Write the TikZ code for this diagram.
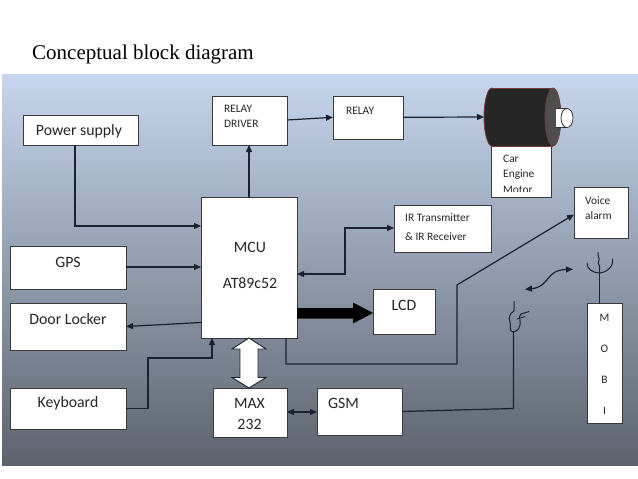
\documentclass[tikz,border=0pt]{standalone}
\usepackage{fontspec}
\setmainfont{Liberation Serif}
\newfontfamily\calfont{Carlito}
\usetikzlibrary{arrows.meta}
\definecolor{bgtop}{HTML}{C6D6EE}
\definecolor{bgmid}{HTML}{98A5B7}
\definecolor{bgbot}{HTML}{5C636D}
\definecolor{ln}{HTML}{1A2130}
\definecolor{bx}{HTML}{3A3A3A}
\definecolor{motbody}{HTML}{262626}
\definecolor{motface}{HTML}{4E4E4E}
\definecolor{motedge}{HTML}{7A3A3A}
\tikzset{
  box/.style={draw=bx, fill=white, line width=0.8pt, inner sep=0pt, outer sep=0pt},
  lbl/.style={font=\calfont\fontsize{15.8}{18}\selectfont, text=black!85, inner sep=0pt},
  sml/.style={font=\calfont\fontsize{11.4}{13}\selectfont, text=black!85, inner sep=0pt},
  wire/.style={draw=ln, line width=1.2pt},
  arr/.style={wire, -{Triangle[length=7pt,width=6pt]}},
  arrtwo/.style={wire, {Triangle[length=7pt,width=6pt]}-{Triangle[length=7pt,width=6pt]}},
}
\begin{document}
\begin{tikzpicture}[x=1pt,y=-1pt]
\useasboundingbox (0,0) rectangle (638,479);
\fill[white] (0,0) rectangle (638,479);
\shade[top color=bgtop, middle color=bgmid, bottom color=bgbot] (2,74) rectangle (638,465);
\node[anchor=base west, inner sep=0pt, font=\fontsize{21}{25}\selectfont] (title) at (32,59) {Conceptual block diagram};

% boxes
\node[box, minimum width=115pt, minimum height=30pt] (ps) at (80.5,130) {};
\node[box, minimum width=75pt, minimum height=49pt] (rd) at (249.5,120.5) {};
\node[box, minimum width=70pt, minimum height=43pt] (relay) at (368,117.5) {};
\node[box, minimum width=60pt, minimum height=51pt] (cem) at (521,171.5) {};
\node[box, minimum width=96pt, minimum height=141pt] (mcu) at (249,267.5) {};
\node[box, minimum width=97pt, minimum height=47pt] (ir) at (442.5,228.5) {};
\node[box, minimum width=54pt, minimum height=51pt] (voice) at (601,212.5) {};
\node[box, minimum width=116pt, minimum height=43pt] (gps) at (68,267.5) {};
\node[box, minimum width=116pt, minimum height=47pt] (door) at (68,326.5) {};
\node[box, minimum width=62pt, minimum height=45pt] (lcd) at (404,311.5) {};
\node[box, minimum width=35pt, minimum height=120pt] (mobi) at (604.5,363) {};
\node[box, minimum width=116pt, minimum height=41pt] (kb) at (68,408.5) {};
\node[box, minimum width=74pt, minimum height=49pt] (max) at (250,412.5) {};
\node[box, minimum width=85pt, minimum height=47pt] (gsm) at (359.5,411.5) {};

% motor (cylinder)
\coordinate (motor) at (484,117);
\path[fill=motbody, draw=motedge, line width=0.8pt] (492,117) ellipse[x radius=8, y radius=29];
\fill[motbody] (492,88) rectangle (553,146);
\draw[motedge, line width=0.8pt] (492,88) -- (553,88) (492,146) -- (553,146);
\path[fill=motface, draw=motedge, line width=0.7pt] (553,117) ellipse[x radius=8, y radius=29];
\path[fill=white, draw=black!80, line width=0.8pt] (556,108.5) rectangle (567,127.5);
\fill[white] (555.5,109) rectangle (567,127);
\path[fill=white, draw=black!80, line width=0.8pt] (567,118) ellipse[x radius=6, y radius=9.5];

% labels
\node[lbl] at (79,131) {Power supply};
\node[sml, anchor=west] at (224,109) {RELAY};
\node[sml, anchor=west] at (224,124) {DRIVER};
\node[sml, anchor=west] at (346,111) {RELAY};
\begin{scope}
\clip (491,146) rectangle (551,191.6);
\node[sml, anchor=base west] at (503,162.3) {Car};
\node[sml, anchor=base west] at (503,177.5) {Engine};
\node[sml, anchor=base west] at (503,193.3) {Motor};
\end{scope}
\node[sml, anchor=west] at (405,218) {IR Transmitter};
\node[sml, anchor=west] at (405,237) {\& IR Receiver};
\node[sml, anchor=west] at (585,201) {Voice};
\node[sml, anchor=west] at (585,215.5) {alarm};
\node[lbl] at (250,247) {MCU};
\node[lbl] at (250,283) {AT89c52};
\node[lbl] at (68,262) {GPS};
\node[lbl] at (68,319.5) {Door Locker};
\node[lbl] at (68,403.5) {Keyboard};
\node[lbl] at (404,305) {LCD};
\node[lbl] at (249.5,403) {MAX};
\node[lbl] at (249.5,424) {232};
\node[lbl] at (343.5,403) {GSM};
\node[sml] at (604.5,318) {M};
\node[sml] at (604.5,349) {O};
\node[sml] at (604.5,380) {B};
\node[sml] at (604.5,411) {I};

% connectors
\draw[arr] (ps.south -| 75,0) |- (mcu.west |- 0,226);
\draw[arr] (mcu.north) -- (mcu.north |- rd.south);
\draw[arr] (rd.east |- 0,120) -- (relay.west |- 0,117.3);
\draw[arr] (relay.east |- 0,117.3) -- (motor);
\draw[arrtwo] (mcu.east |- 0,274) -| (345,228) -- (ir.west |- 0,228);
\draw[arr] (gps.east |- 0,267) -- (mcu.west |- 0,267);
\draw[arr] (mcu.west |- 0,322.5) -- (door.east |- 0,326.5);
\draw[arr] (kb.east |- 0,408.5) -- (148,408.5) -- (148,358) -- (212,358) -- (mcu.south -| 212,0);
\fill[black] (mcu.east |- 0,308) -- (353,308) -- (353,302.5) -- (lcd.west |- 0,313) -- (353,323.5) -- (353,318.5) -- (mcu.east |- 0,318.5) -- cycle;
\draw[fill=white, draw=ln, line width=0.9pt] (mcu.south -| 249,0) -- (266,349) -- (258,349) -- (258,377.5) -- (266,377.5) -- (max.north -| 249,0) -- (232,377.5) -- (240,377.5) -- (240,349) -- (232,349) -- cycle;
\draw[arrtwo] (max.east |- 0,412) -- (gsm.west |- 0,412);
\draw[arr] (mcu.south -| 286,0) |- (457,364) -- (457,285) -- (voice.west |- 0,214.5);
\coordinate (hand) at (513.5,332);
\draw[wire] (gsm.east |- 0,411.5) -- (513.5,408.5) -- (hand);
\draw[draw=ln, line width=1pt, line join=round, line cap=round]
  (514,301.5) -- (514,311) .. controls (510,313) and (508,318) .. (510,322)
  .. controls (511,326) and (509,330) .. (512,331.5)
  .. controls (515,332.5) and (519,330) .. (520,325)
  .. controls (521,320) and (518,317) .. (521,314) -- (529,311.5);
\draw[draw=ln, line width=0.8pt, line cap=round] (517,319) -- (525,316.5);
\draw[arrtwo] (525,289.3) .. controls (550,287) and (545,270) .. (573,269.3);
\coordinate (ant) at (599.5,273);
\draw[wire] (ant) -- (mobi.north -| 599.5,0);
\draw[draw=ln, line width=1pt, line cap=round]
  (ant) .. controls (592,272.5) and (587,269) .. (587,263);
\draw[draw=ln, line width=1pt, line cap=round]
  (ant) .. controls (607,272.5) and (614,266) .. (612.5,259);
\draw[draw=ln, line width=1pt, line cap=round]
  (ant) -- (599.5,266) .. controls (596,263) and (601,260) .. (598.5,257) .. controls (597,255) and (599,254) .. (598,252.5);
\end{tikzpicture}
\end{document}
